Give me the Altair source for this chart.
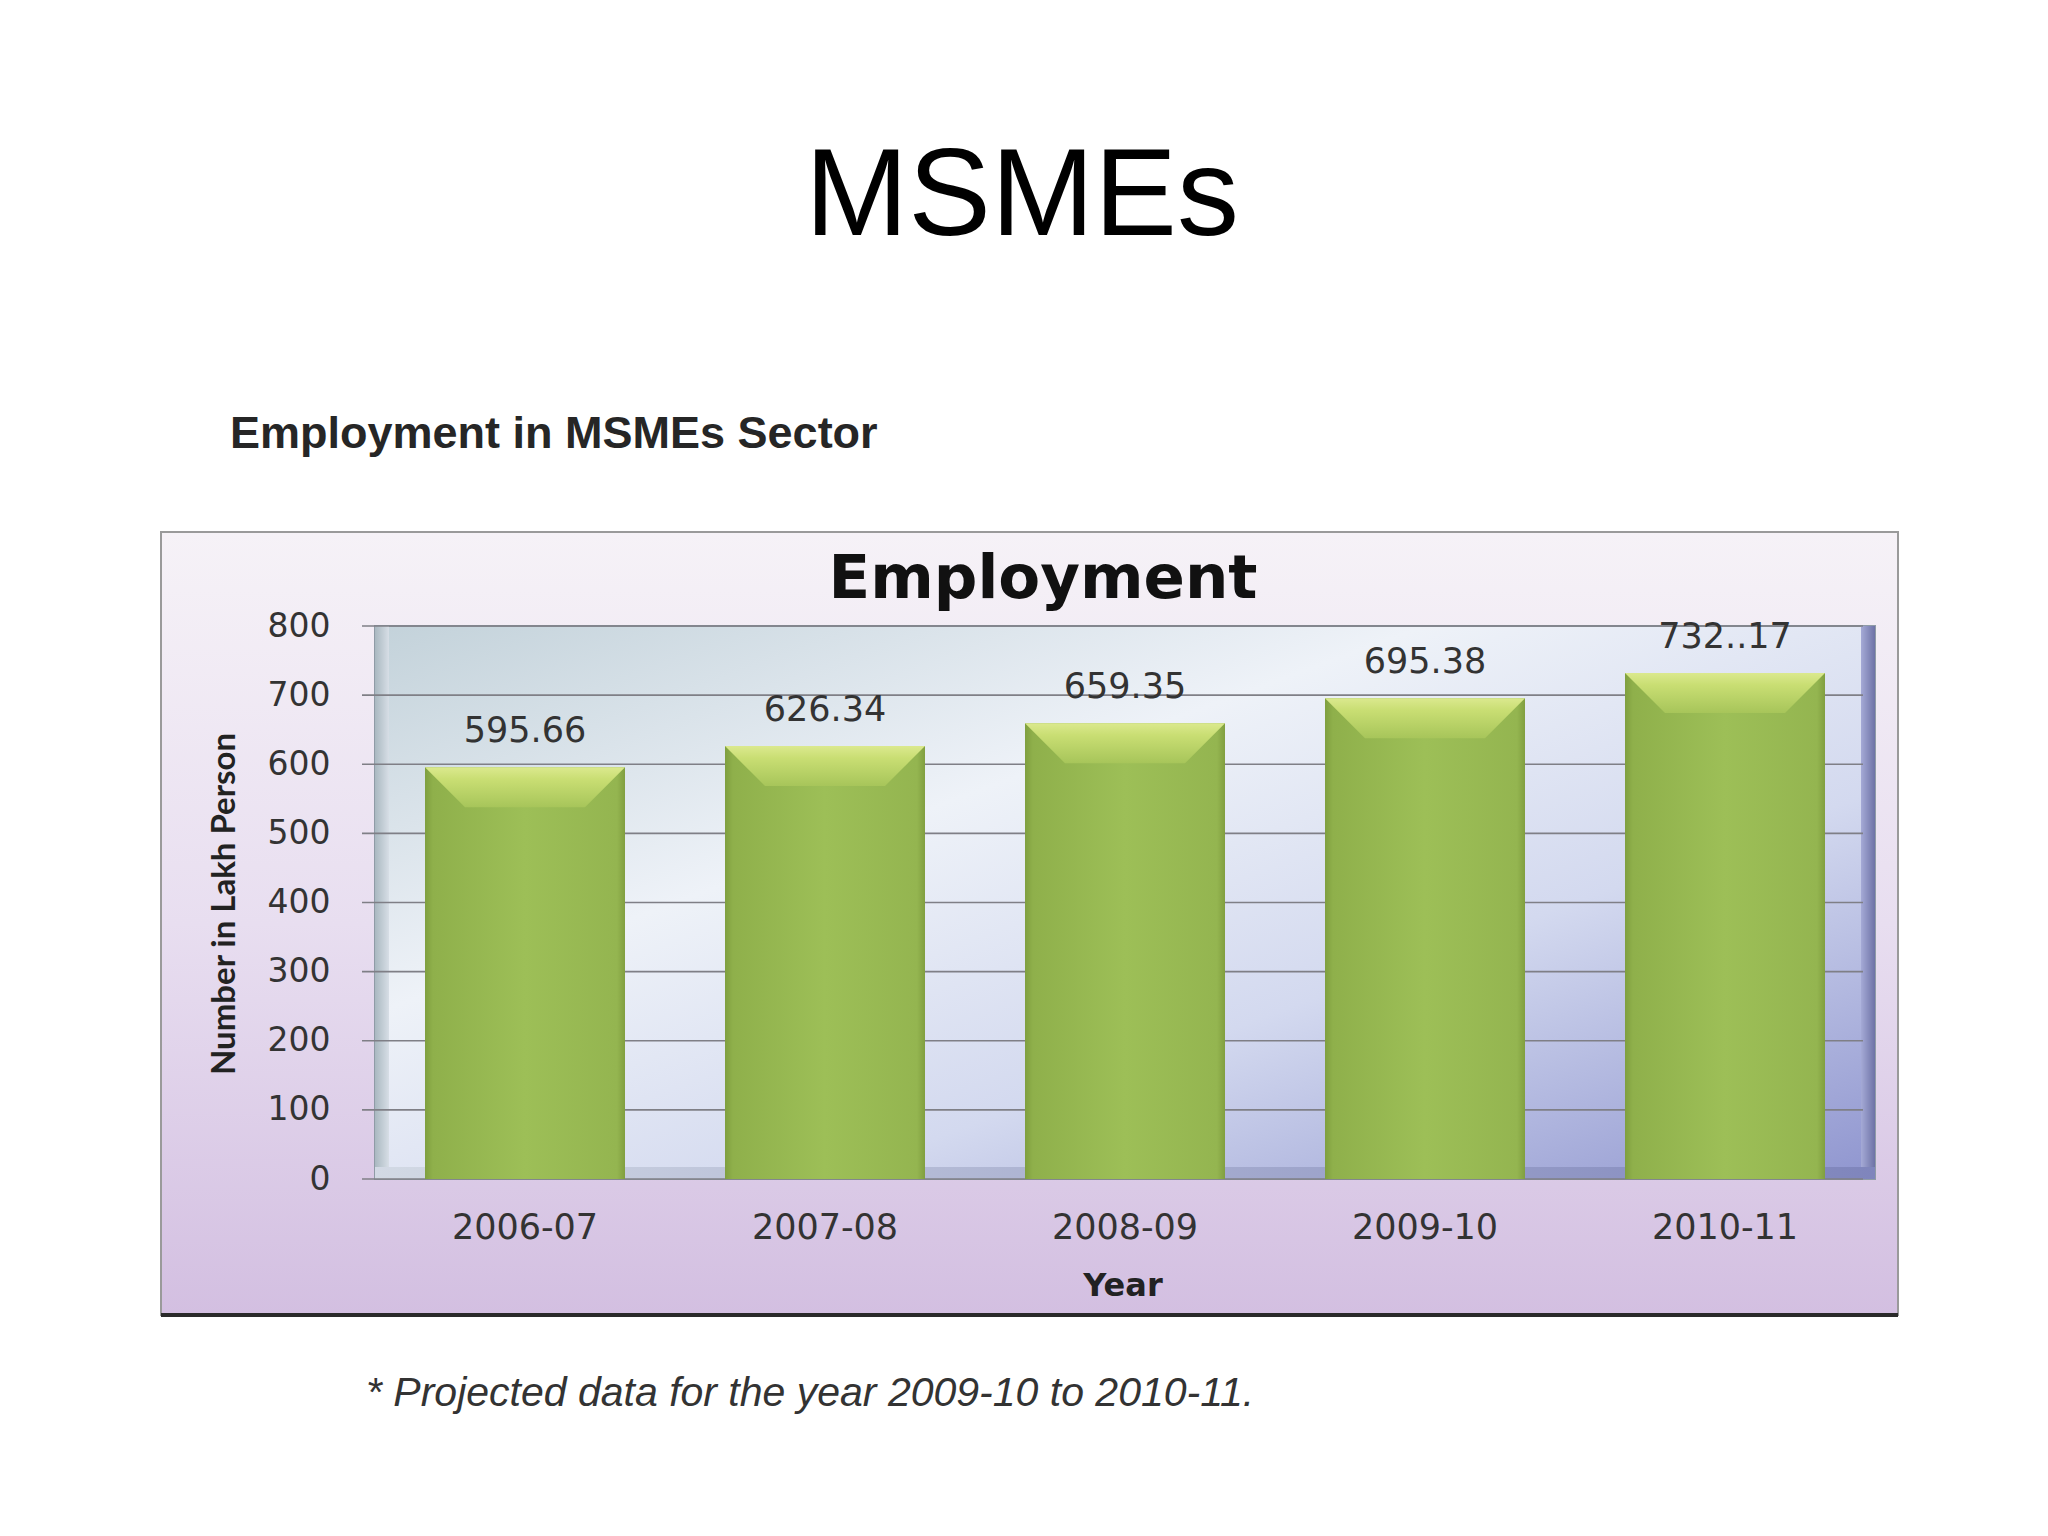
import altair as alt
import pandas as pd

# ---- data ----
years = ["2006-07", "2007-08", "2008-09", "2009-10", "2010-11"]
employment = [595.66, 626.34, 659.35, 695.38, 732.17]
y_ticks = [0, 100, 200, 300, 400, 500, 600, 700, 800]
labels = ["595.66", "626.34", "659.35", "695.38", "732..17"]

main_title = "MSMEs"
sub_title = "Employment in MSMEs Sector"
chart_title = "Employment"
y_title = "Number in Lakh Person"
x_title = "Year"
footnote = "* Projected data for the year 2009-10 to 2010-11."

df = pd.DataFrame({"year": years, "value": employment, "label": labels})
grid_df = pd.DataFrame({"tick": y_ticks})
one = alt.Data(values=[{"k": 1}])

W, H = 1500, 553

x_enc = alt.X("year:N", sort=years,
              scale=alt.Scale(paddingInner=1/3, paddingOuter=1/6),
              axis=alt.Axis(title=None, ticks=False, tickSize=0, domain=False, grid=False,
                            labelFont="DejaVu Sans", labelFontSize=35, labelColor="#333333",
                            labelAngle=0, labelPadding=59, labelBaseline="alphabetic",
                            zindex=1))
y_scale = alt.Scale(domain=[0, 800], nice=False, zero=True)
y_enc = alt.Y("value:Q", scale=y_scale,
              axis=alt.Axis(title=None, values=y_ticks, ticks=False, tickSize=0, domain=False,
                            grid=False, labelFont="DejaVu Sans", labelFontSize=33,
                            labelColor="#333333", labelPadding=45, zindex=1))


def grad(stops, x1=0, y1=0, x2=0, y2=1):
    return {"gradient": "linear", "x1": x1, "y1": y1, "x2": x2, "y2": y2,
            "stops": [{"offset": o, "color": c} for o, c in stops]}


# outer chart box
box = alt.Chart(one).mark_rect(
    fill=grad([(0, "#f6f2f7"), (0.5, "#e8def0"), (1, "#d3bfe1")]),
    stroke="#9a9a9a", strokeWidth=2
).encode(x=alt.value(-214), x2=alt.value(1523), y=alt.value(-94), y2=alt.value(689))

box_bottom = alt.Chart(one).mark_rule(color="#2a2a2a", strokeWidth=4).encode(
    x=alt.value(-214), x2=alt.value(1523), y=alt.value(689))

# plot wall
wall = alt.Chart(one).mark_rect(
    fill=grad([(0, "#c3d2da"), (0.35, "#eef2f8"), (0.65, "#d3d9ef"), (1, "#8f95cf")],
              x1=0, y1=0, x2=1, y2=1),
    stroke="#8f9ba6", strokeWidth=2
).encode(x=alt.value(0), x2=alt.value(W), y=alt.value(0), y2=alt.value(H))

left_side = alt.Chart(one).mark_rect(
    fill=grad([(0, "#a9b8c0"), (1, "#d7dee6")], x1=0, y1=0, x2=1, y2=0)
).encode(x=alt.value(0), x2=alt.value(14), y=alt.value(0), y2=alt.value(H))

right_side = alt.Chart(one).mark_rect(
    fill=grad([(0, "#a5aad6"), (1, "#6d72a6")], x1=0, y1=0, x2=1, y2=0)
).encode(x=alt.value(W - 14), x2=alt.value(W), y=alt.value(0), y2=alt.value(H))

floor = alt.Chart(one).mark_rect(
    fill=grad([(0, "#d2d9e4"), (1, "#7f85bc")], x1=0, y1=0, x2=1, y2=0)
).encode(x=alt.value(0), x2=alt.value(W), y=alt.value(H - 12), y2=alt.value(H))

grid = alt.Chart(grid_df).mark_rule(color="#7f7f86", strokeWidth=1.6).encode(
    y=alt.Y("tick:Q", scale=y_scale), x=alt.value(-13), x2=alt.value(W - 12))

bars = alt.Chart(df).mark_bar(
    fill=grad([(0, "#7f9f3f"), (0.04, "#8fb04b"), (0.5, "#9dbf57"), (0.96, "#94b550"), (1, "#819f40")],
              x1=0, y1=0, x2=1, y2=0)
).encode(x=x_enc, y=y_enc)

bevel = alt.Chart(df).mark_point(
    shape="M -1 0 L 1 0 L 0.6 0.4 L -0.6 0.4 Z", size=40000, filled=True, opacity=1,
    strokeWidth=0,
    fill=grad([(0, "#dbe98e"), (0.3, "#c9de73"), (1, "#a7c55a")])
).encode(x=alt.X("year:N", sort=years), y=alt.Y("value:Q", scale=y_scale))

values_text = alt.Chart(df).mark_text(
    font="DejaVu Sans", fontSize=35, color="#333333", baseline="alphabetic", dy=-25
).encode(x=alt.X("year:N", sort=years), y=alt.Y("value:Q", scale=y_scale), text="label:N")


def label(txt, x, y, size, font="Liberation Sans", weight="normal", style="normal",
          align="center", baseline="alphabetic", angle=0, color="#000000"):
    return alt.Chart(one).mark_text(
        text=txt, font=font, fontSize=size, fontWeight=weight, fontStyle=style,
        align=align, baseline=baseline, angle=angle, color=color
    ).encode(x=alt.value(x), y=alt.value(y))


t_main = label(main_title, 647, -391, 124)
t_sub = label(sub_title, -145, -178, 45, weight="bold", align="left", color="#262626")
t_chart = label(chart_title, 668, -28, 61, font="DejaVu Sans", weight="bold", color="#111111")
t_y = label(y_title, -150, 278, 33, font="Lato", weight="bold", baseline="middle",
            angle=270, color="#222222")
t_x = label(x_title, 748, 670, 32, font="DejaVu Sans", weight="bold", color="#222222")
t_foot = label(footnote, -9, 780, 41, style="italic", align="left", color="#333333")

chart = alt.layer(
    box, box_bottom, wall, left_side, right_side, floor, grid, bars, bevel, values_text,
    t_main, t_sub, t_chart, t_y, t_x, t_foot
).properties(
    width=W, height=H,
    autosize=alt.AutoSizeParams(type="none"),
    padding={"left": 367, "top": 618, "right": 165, "bottom": 349},
).configure_view(strokeWidth=0).configure(background="white")

chart.save("out.html", embed_options={"renderer": "svg", "actions": False})
